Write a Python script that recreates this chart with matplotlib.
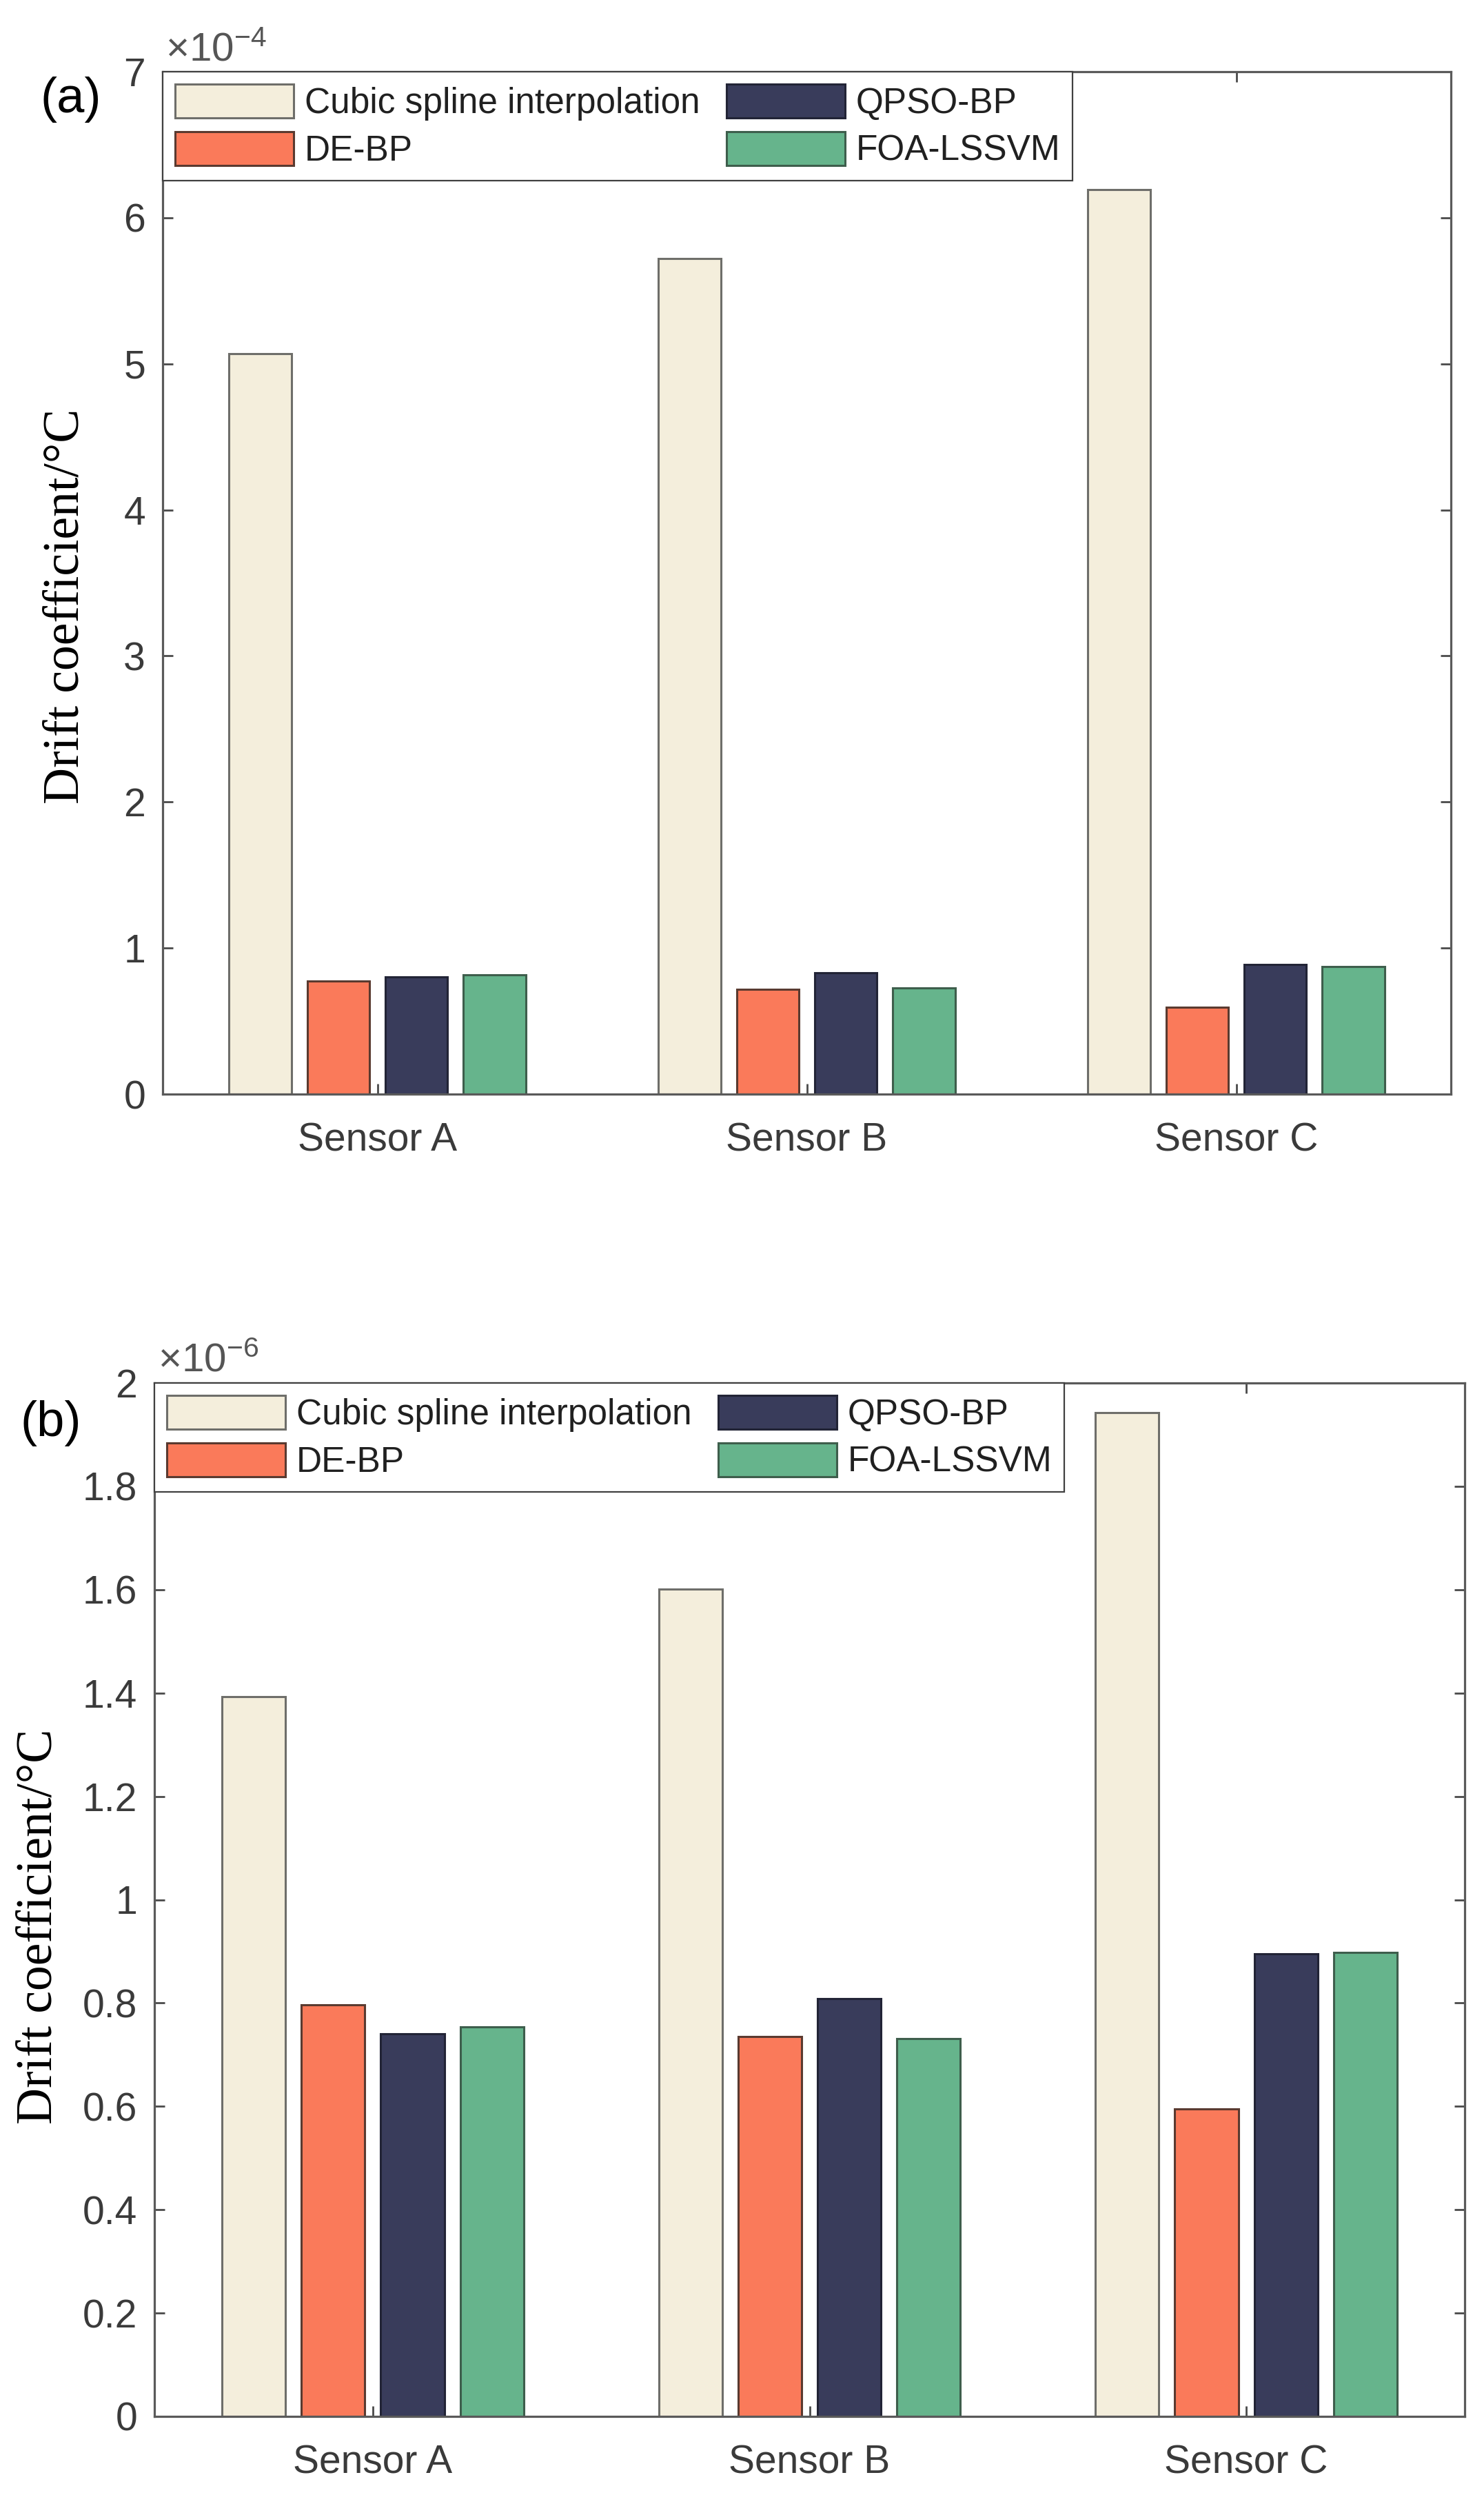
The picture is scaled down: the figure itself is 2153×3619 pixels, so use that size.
import matplotlib
matplotlib.use("Agg")
import numpy as np
import matplotlib.pyplot as plt
from matplotlib.ticker import FuncFormatter

plt.rcParams['font.family'] = ['Liberation Sans', 'DejaVu Sans']

# sensor groups and methods
sensors = ['Sensor A', 'Sensor B', 'Sensor C']
methods = ['Cubic spline interpolation', 'DE-BP', 'QPSO-BP', 'FOA-LSSVM']
colors = ['#F4EEDC', '#FA7A5A', '#393C5B', '#66B48C']
edges = ['#6e6e6a', '#5a3a30', '#222436', '#3e5e4c']

# panel (a), values in units of 1e-4
cubic_a = [5.07, 5.72, 6.195]
debp_a = [0.772, 0.716, 0.595]
qpso_a = [0.802, 0.832, 0.888]
foa_a = [0.817, 0.728, 0.874]

# panel (b), values in units of 1e-6
cubic_b = [1.393, 1.601, 1.942]
debp_b = [0.797, 0.735, 0.595]
qpso_b = [0.740, 0.808, 0.895]
foa_b = [0.754, 0.731, 0.898]

yticks_a = [0, 1, 2, 3, 4, 5, 6, 7]
yticks_b = [0, 0.2, 0.4, 0.6, 0.8, 1, 1.2, 1.4, 1.6, 1.8, 2]

W, H = 2153, 3619
DPI = 100
fig = plt.figure(figsize=(W / DPI, H / DPI), dpi=DPI)


def draw_panel(rect, series, yticks, ylim, exponent, tag, tag_xy, exp_xy, ylab_xy):
    ax = fig.add_axes(rect)
    x = np.arange(1, len(sensors) + 1)
    slot = 4 / 5.5 / 4  # MATLAB grouped bar spacing
    width = 0.8 * slot
    handles = []
    for i, vals in enumerate(series):
        off = (i - 1.5) * slot
        b = ax.bar(x + off, vals, width, color=colors[i], edgecolor=edges[i],
                   linewidth=2.2, label=methods[i], zorder=2)
        handles.append(b)
    ax.set_xlim(0.5, 3.5)
    ax.set_ylim(*ylim)
    ax.set_xticks(x)
    ax.set_xticklabels(sensors)
    ax.set_yticks(yticks)
    ax.yaxis.set_major_formatter(FuncFormatter(lambda v, p: '%g' % v))
    ax.tick_params(axis='both', direction='in', length=11, width=2,
                   colors='#4a4a4a', labelsize=41, right=True, top=True)
    ax.tick_params(axis='y', pad=18, labelcolor='#3a3a3a')
    ax.tick_params(axis='x', pad=29, labelcolor='#3a3a3a')
    for s in ax.spines.values():
        s.set_color('#5a5a5a')
        s.set_linewidth(2.3)
    leg = ax.legend(handles=handles, ncol=2, loc='upper left',
                    bbox_to_anchor=(0, 1), borderaxespad=0, fontsize=37,
                    handlelength=3.35, handleheight=1.1, handletextpad=0.3,
                    columnspacing=0.75, labelspacing=0.3, borderpad=0.35,
                    fancybox=False, framealpha=1, edgecolor='#404040')
    leg.get_frame().set_linewidth(1.6)
    for t in leg.get_texts():
        t.set_color('#202020')
    ax.set_ylabel('Drift coefficient/\u00b0C', family='Liberation Serif',
                  fontsize=53, color='black')
    ax.yaxis.set_label_coords(*ylab_xy)
    fig.text(tag_xy[0], tag_xy[1], tag, fontsize=52, ha='center', va='center')
    fig.text(exp_xy[0], exp_xy[1], r'$\mathregular{\times10^{-%d}}$' % exponent,
             fontsize=42, color='#555555', ha='left', va='baseline')
    return ax


ax_a = draw_panel([236 / W, 1 - 1587 / H, 1869 / W, 1483 / H],
                  [cubic_a, debp_a, qpso_a, foa_a], yticks_a, (0, 7), 4,
                  '(a)', (103 / W, 1 - 145 / H), (240 / W, 1 - 88 / H),
                  (-0.057, 0.477))
ax_b = draw_panel([224 / W, 1 - 3505 / H, 1901 / W, 1499 / H],
                  [cubic_b, debp_b, qpso_b, foa_b], yticks_b, (0, 2), 6,
                  '(b)', (74 / W, 1 - 2065 / H), (229 / W, 1 - 1990 / H),
                  (-0.07, 0.474))

fig.savefig('out.png', dpi=DPI, facecolor='white')
